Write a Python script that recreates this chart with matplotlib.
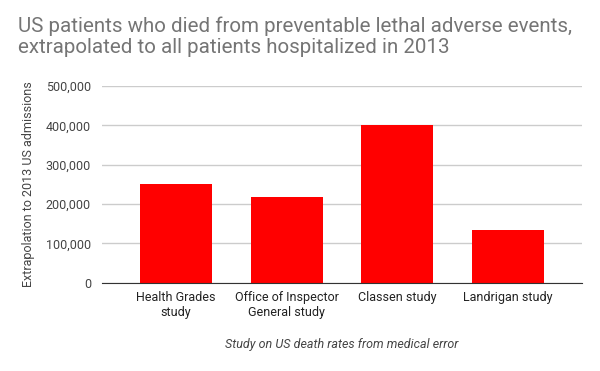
import matplotlib.pyplot as plt
from matplotlib.ticker import FuncFormatter

plt.rcParams['font.family'] = ['Roboto', 'DejaVu Sans']

studies = ['Health Grades\nstudy', 'Office of Inspector\nGeneral study', 'Classen study', 'Landrigan study']
deaths = [251454, 218000, 400201, 134581]
yticks = [0, 100000, 200000, 300000, 400000, 500000]

fig = plt.figure(figsize=(6, 3.71), dpi=100)
ax = fig.add_axes([0.17, 0.238, 0.80, 0.53])

x = range(len(studies))
ax.bar(x, deaths, width=0.65, color='#ff0000', zorder=3)

ax.set_xlim(-0.67, len(studies) - 1 + 0.67)
ax.set_ylim(0, 500000)
ax.set_yticks(yticks)
ax.yaxis.set_major_formatter(FuncFormatter(lambda v, p: f'{int(v):,}'))
ax.set_xticks(list(x))
ax.set_xticklabels(studies, fontsize=9, color='#222222')
ax.tick_params(axis='y', labelsize=9, labelcolor='#444444', length=0, pad=8)
ax.tick_params(axis='x', length=0, pad=6)

ax.grid(axis='y', color='#cccccc', linewidth=1, zorder=0)
for s in ['top', 'right', 'left']:
    ax.spines[s].set_visible(False)
ax.spines['bottom'].set_color('#333333')
ax.spines['bottom'].set_zorder(4)

ax.set_ylabel('Extrapolation to 2013 US admissions', fontsize=9, color='#444444', labelpad=8)
ax.set_xlabel('Study on US death rates from medical error', fontsize=9, style='italic',
              color='#444444', labelpad=14)

fig.text(0.03, 0.955, 'US patients who died from preventable lethal adverse events,\n'
         'extrapolated to all patients hospitalized in 2013',
         fontsize=14.8, color='#757575', va='top', ha='left', linespacing=1.15)

fig.savefig('out.png', dpi=100)
